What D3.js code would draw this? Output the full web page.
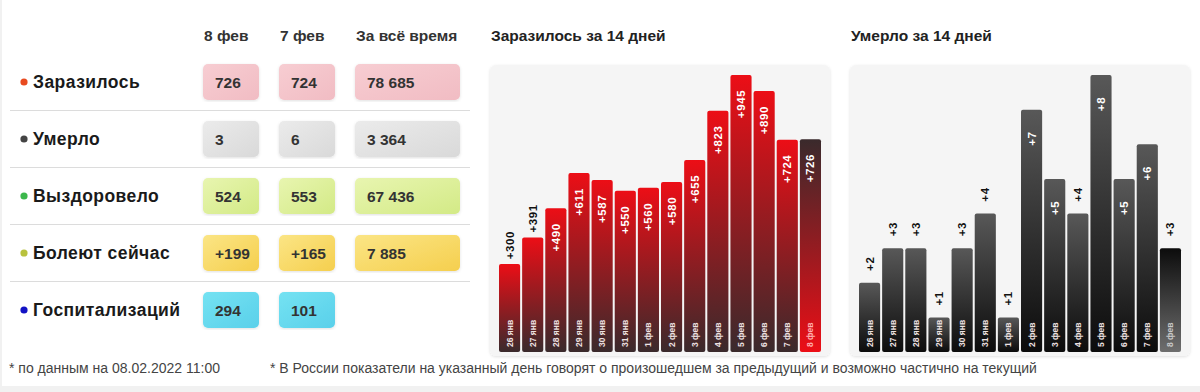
<!DOCTYPE html>
<html><head><meta charset="utf-8">
<script src="https://cdn.jsdelivr.net/npm/d3@7"></script>
<style>
html,body{margin:0;padding:0;background:#f1f1f1;}
svg{display:block;font-family:"Liberation Sans",Arial,sans-serif;}
</style></head><body>
<svg id="c" width="1200" height="392"></svg>
<script>
// ---- data ----
const columnHeaders = ["8 фев", "7 фев", "За всё время"];
const rowLabels = ["Заразилось", "Умерло", "Выздоровело", "Болеют сейчас", "Госпитализаций"];
const valuesFeb8 = ["726", "3", "524", "+199", "294"];
const valuesFeb7 = ["724", "6", "553", "+165", "101"];
const valuesTotal = ["78 685", "3 364", "67 436", "7 885", null];

const days = ["26 янв","27 янв","28 янв","29 янв","30 янв","31 янв","1 фев","2 фев","3 фев","4 фев","5 фев","6 фев","7 фев","8 фев"];
const infected = [300, 391, 490, 611, 587, 550, 560, 580, 655, 823, 945, 890, 724, 726];
const deaths = [2, 3, 3, 1, 3, 4, 1, 7, 5, 4, 8, 5, 6, 3];

const chartTitles = ["Заразилось за 14 дней", "Умерло за 14 дней"];
const footnotes = ["* по данным на 08.02.2022 11:00", "* В России показатели на указанный день говорят о произошедшем за предыдущий и возможно частично на текущий"];

// ---- styles ----
const dotColors = ["#e84a1f", "#444444", "#3cb84c", "#b9c23e", "#1212c4"];
const boxGrad = [["#f7cdd2","#f1bcc3"],["#ebebeb","#d9d9d9"],["#e8f5b0","#d3ea86"],["#fbe585","#f5cf4e"],["#74e2f2","#5ad0ea"]];

const svg = d3.select("#c");
svg.append("rect").attr("x",2).attr("y",0).attr("width",1198).attr("height",386).attr("fill","#fff");

const defs = svg.append("defs");
boxGrad.forEach((g,i)=>{
  const lg = defs.append("linearGradient").attr("id","bg"+i).attr("x1","0").attr("y1","0").attr("x2","1").attr("y2","1");
  lg.append("stop").attr("offset","0").attr("stop-color",g[0]);
  lg.append("stop").attr("offset","1").attr("stop-color",g[1]);
});
function vgrad(id, top, bottom){
  const lg = defs.append("linearGradient").attr("id",id).attr("x1","0").attr("y1","0").attr("x2","0").attr("y2","1");
  lg.append("stop").attr("offset","0").attr("stop-color",top);
  lg.append("stop").attr("offset","1").attr("stop-color",bottom);
}
vgrad("redBar","#ec0e16","#3a2a2c");
vgrad("redLast","#3a2a2c","#ec0e16");
vgrad("darkBar","#585858","#0c0c0c");
vgrad("darkLast","#0c0c0c","#6e6e6e");
const flt = defs.append("filter").attr("id","sh").attr("x","-5%").attr("y","-5%").attr("width","110%").attr("height","110%");
flt.append("feDropShadow").attr("dx",0).attr("dy",1).attr("stdDeviation",1.5).attr("flood-color","#000").attr("flood-opacity",0.12);

// ---- table ----
const rowY = d3.scaleBand().domain(rowLabels).range([53.5, 338.5]);
const colX = [203, 279, 355];
const colW = [56, 56, 105];

svg.selectAll(".hdr").data(columnHeaders).join("text")
  .attr("x",(d,i)=>colX[i]+1).attr("y",35).attr("dominant-baseline","central")
  .attr("font-size",15.5).attr("font-weight","bold").attr("fill","#333").text(d=>d);

const rows = svg.selectAll(".row").data(rowLabels).join("g")
  .attr("transform",d=>`translate(0,${rowY(d)+rowY.bandwidth()/2})`);
rows.append("circle").attr("cx",24).attr("cy",0).attr("r",3.6).attr("fill",(d,i)=>dotColors[i]);
rows.append("text").attr("x",33).attr("y",0).attr("dominant-baseline","central")
  .attr("font-size",17.5).attr("font-weight","bold").attr("fill","#1a1a1a").attr("letter-spacing","0.45").text(d=>d);
rowLabels.slice(0,-1).forEach(d=>{
  svg.append("line").attr("x1",10).attr("x2",470)
    .attr("y1",rowY(d)+rowY.bandwidth()).attr("y2",rowY(d)+rowY.bandwidth())
    .attr("stroke","#dcdcdc").attr("stroke-width",1);
});
const cols = [valuesFeb8, valuesFeb7, valuesTotal];
rowLabels.forEach((r,ri)=>{
  const cy = rowY(r)+rowY.bandwidth()/2;
  cols.forEach((vals,ci)=>{
    const v = vals[ri];
    if(v==null) return;
    svg.append("rect").attr("x",colX[ci]).attr("y",cy-18).attr("width",colW[ci]).attr("height",36)
      .attr("rx",5).attr("fill",`url(#bg${ri})`).attr("filter","url(#sh)");
    svg.append("text").attr("x",colX[ci]+12).attr("y",cy).attr("dominant-baseline","central")
      .attr("font-size",15.5).attr("font-weight","bold").attr("fill","#333").text(v);
  });
});

// ---- bar charts ----
function barChart(x0, values, title, gradient, lastGradient, dateLastColor, outsideColor){
  const g = svg.append("g");
  g.append("text").attr("x",x0+1).attr("y",35).attr("dominant-baseline","central")
    .attr("font-size",15.5).attr("font-weight","bold").attr("fill","#222").text(title);
  g.append("rect").attr("x",x0).attr("y",65).attr("width",340).attr("height",291).attr("rx",6)
    .attr("fill","#f5f5f5").attr("filter","url(#sh)");
  const x = d3.scaleBand().domain(days).range([x0+9, x0+9+14*23]).paddingInner(2/23).paddingOuter(0);
  const y = d3.scaleLinear().domain([0, d3.max(values)]).range([352, 75]);
  const n = values.length;
  const bars = g.selectAll(".b").data(values).join("g");
  bars.append("rect")
    .attr("x",(d,i)=>x(days[i])).attr("width",x.bandwidth())
    .attr("y",d=>y(d)).attr("height",d=>y(0)-y(d)).attr("rx",2)
    .attr("fill",(d,i)=> i===n-1 ? `url(#${lastGradient})` : `url(#${gradient})`);
  bars.append("text")
    .attr("transform",(d,i)=>{
      const cx = x(days[i])+x.bandwidth()/2;
      const inside = (y(0)-y(d))>140;
      const cy = inside ? y(d)+29 : y(d)-19;
      return `translate(${cx},${cy}) rotate(-90)`;
    })
    .attr("text-anchor","middle").attr("dominant-baseline","central")
    .attr("font-size",11.5).attr("font-weight","bold").attr("letter-spacing","0.6")
    .attr("fill",d=> (y(0)-y(d))>140 ? "#fff" : outsideColor)
    .text(d=>"+"+d);
  bars.append("text")
    .attr("transform",(d,i)=>`translate(${x(days[i])+x.bandwidth()/2},347) rotate(-90)`)
    .attr("text-anchor","start").attr("dominant-baseline","central")
    .attr("font-size",8.5).attr("font-weight","bold").attr("fill",(d,i)=> i===n-1 ? dateLastColor : "#eee2e2")
    .text((d,i)=>days[i]);
}
barChart(490, infected, chartTitles[0], "redBar", "redLast", "#ffb0b0", "#111");
barChart(850, deaths, chartTitles[1], "darkBar", "darkLast", "#c8c8c8", "#111");

// ---- footnotes ----
svg.append("text").attr("x",9).attr("y",368).attr("dominant-baseline","central")
  .attr("font-size",14).attr("fill","#444").text(footnotes[0]);
svg.append("text").attr("x",270).attr("y",368).attr("dominant-baseline","central")
  .attr("font-size",14).attr("fill","#444").text(footnotes[1]);
</script>
</body></html>
